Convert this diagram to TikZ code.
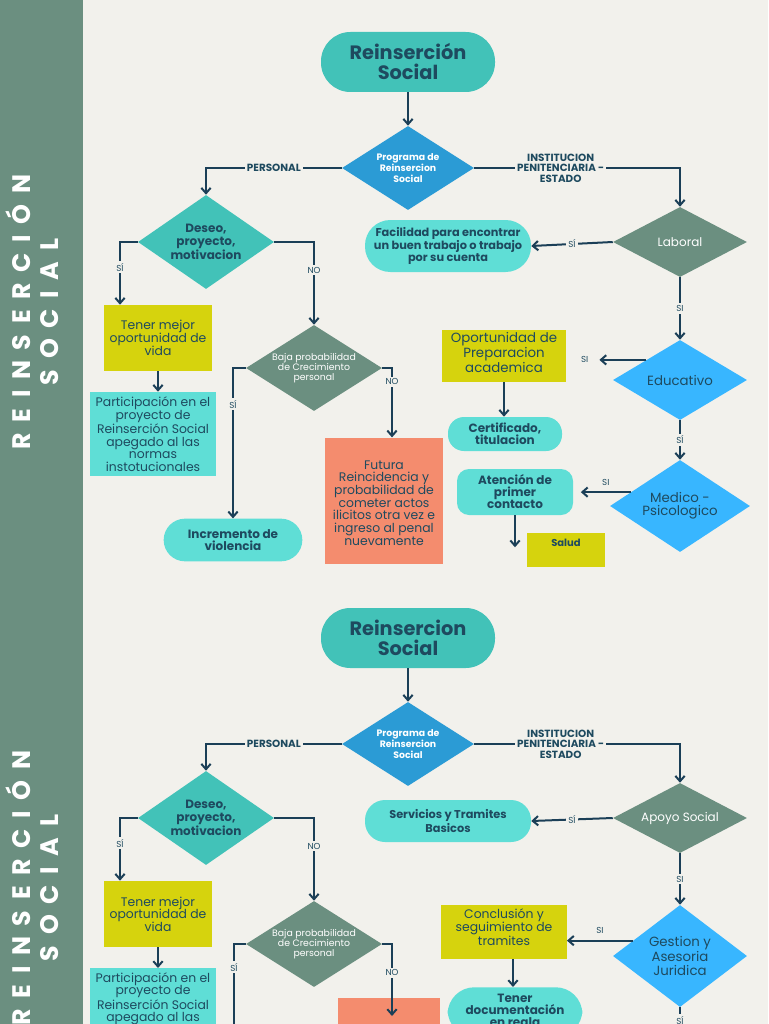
\documentclass[tikz,border=0pt]{standalone}
\usepackage{fontspec}
\setmainfont{Poppins}
\newfontfamily\sidefont[LetterSpace=42]{Poppins Bold}
\usetikzlibrary{shapes.geometric,arrows.meta,calc}
\definecolor{bg}{HTML}{F2F1EC}
\definecolor{side}{HTML}{6B8F80}
\definecolor{teal}{HTML}{42C2B8}
\definecolor{blued}{HTML}{2B9BD5}
\definecolor{cyanb}{HTML}{5FDED6}
\definecolor{yel}{HTML}{D6D30D}
\definecolor{ora}{HTML}{F48C6E}
\definecolor{lblue}{HTML}{38B6FF}
\definecolor{dk}{HTML}{1E4A5F}
\definecolor{ln}{HTML}{1B3F57}
\tikzset{
 dia/.style={diamond,inner sep=0pt,align=center,font=\fontsize{9}{9.5}\selectfont},
 box/.style={rectangle,inner sep=1pt,align=center,text=dk,font=\fontsize{9.3}{9.5}\selectfont},
 pill/.style={rectangle,rounded corners=#1,inner sep=1pt,align=center,text=dk,font=\bfseries\fontsize{8.5}{9}\selectfont},
 conn/.style={draw=ln,line width=1.5pt,-{Straight Barb[length=4pt,width=7pt]}},
 lab/.style={fill=bg,text=dk,inner sep=1.5pt,font=\fontsize{6.5}{7}\selectfont},
 labb/.style={fill=bg,text=dk,inner sep=1.5pt,align=center,font=\bfseries\fontsize{7.8}{8}\selectfont},
 sidetxt/.style={rotate=90,text=white,font=\sidefont\fontsize{19}{19}\selectfont}
}
\begin{document}
\begin{tikzpicture}[x=0.75pt,y=-0.75pt]
\useasboundingbox (0,0) rectangle (768,1024);
\clip (0,0) rectangle (768,1024);
\fill[bg] (0,0) rectangle (768,1024);
\fill[side] (0,0) rectangle (83,1024);
\node[sidetxt] (s1) at (18,312) {REINSERCIÓN};
\node[sidetxt] (s2) at (50,312) {SOCIAL};
\node[sidetxt] (s3) at (18,888) {REINSERCIÓN};
\node[sidetxt] (s4) at (50,888) {SOCIAL};

% ===== TOP =====
\node[pill=22pt,fill=teal,minimum width=130.5pt,minimum height=45pt,font=\bfseries\fontsize{14.5}{15}\selectfont] (t1) at (408,62) {Reinserción\\Social};
\node[dia,shape aspect=1.57,fill=blued,text=white,minimum width=99pt,minimum height=63pt,font=\bfseries\fontsize{7}{8}\selectfont] (p1) at (408,168) {Programa de\\Reinsercion\\Social};
\node[dia,shape aspect=1.45,fill=teal,text=dk,minimum width=102pt,minimum height=70.5pt,font=\bfseries\fontsize{9}{9.5}\selectfont] (d1) at (206,242) {Deseo,\\proyecto,\\motivacion};
\node[box,fill=yel,minimum width=81pt,minimum height=49.5pt] (te1) at (158,338) {Tener mejor\\oportunidad de\\vida};
\node[box,fill=cyanb,minimum width=94.5pt,minimum height=63pt] (pa1) at (153,434) {Participación en el\\proyecto de\\Reinserción Social\\apegado al las\\normas\\instotucionales};
\node[dia,shape aspect=1.58,fill=side,text=white,minimum width=102pt,minimum height=64.5pt,font=\fontsize{7}{7.5}\selectfont] (b1) at (314,368) {Baja probabilidad\\de Crecimiento\\personal};
\node[pill=16pt,fill=cyanb,minimum width=104pt,minimum height=32pt,font=\bfseries\fontsize{9}{9}\selectfont] (in1) at (233,540) {Incremento de\\violencia};
\node[box,fill=ora,minimum width=88.5pt,minimum height=95pt] (fu1) at (384,501) {\\Futura\\Reincidencia y\\probabilidad de\\cometer actos\\ilicitos otra vez e\\ingreso al penal\\nuevamente};
\node[dia,shape aspect=1.9,fill=side,text=white,minimum width=100.5pt,minimum height=52.5pt] (la1) at (680,242) {Laboral};
\node[pill=19pt,fill=cyanb,minimum width=124.5pt,minimum height=39pt] (fa1) at (448,246) {Facilidad para encontrar\\un buen trabajo o trabajo\\por su cuenta};
\node[dia,shape aspect=1.68,fill=lblue,text=dk,minimum width=100.5pt,minimum height=60pt,font=\fontsize{10}{10}\selectfont] (ed1) at (680,380) {Educativo};
\node[box,fill=yel,minimum width=93pt,minimum height=39pt,font=\fontsize{10}{9.5}\selectfont] (op1) at (504,356) {Oportunidad de\\Preparacion\\academica\\[-4pt]};
\node[pill=12pt,fill=cyanb,minimum width=85.5pt,minimum height=25.5pt,font=\bfseries\fontsize{9}{9}\selectfont] (ce1) at (505,434) {Certificado,\\titulacion};
\node[dia,shape aspect=1.52,fill=lblue,text=dk,minimum width=105pt,minimum height=69pt,font=\fontsize{10}{10}\selectfont] (me1) at (680,506) {Medico -\\Psicologico};
\node[pill=9pt,fill=cyanb,minimum width=87pt,minimum height=34.5pt,font=\bfseries\fontsize{9}{9}\selectfont] (at1) at (515,492) {Atención de\\primer\\contacto};
\node[box,fill=yel,minimum width=59pt,minimum height=25.5pt,font=\bfseries\fontsize{7.5}{8}\selectfont] (sa1) at (566,550) {Salud\\[3pt]};

\draw[conn] (t1) -- (p1);
\draw[conn] (p1.west) -| node[labb,pos=0.25]{PERSONAL} (d1.north);
\draw[conn] (p1.east) -| node[labb,pos=0.21]{INSTITUCION\\PENITENCIARIA -\\ESTADO} (la1.north);
\draw[conn] (d1.west) -| node[lab,pos=0.7]{SÍ} (te1.north -| 120,0);
\draw[conn] (d1.east) -| node[lab,pos=0.67]{NO} (b1.north);
\draw[conn] (te1.south) -- (pa1.north -| te1.south);
\draw[conn] (b1.west) -| node[lab,pos=0.62]{SÍ} (in1.north);
\draw[conn] (b1.east) -| node[lab,pos=0.6]{NO} ([xshift=6pt]fu1.north);
\draw[conn] (la1.west) -- node[lab]{SÍ} (fa1.east);
\draw[conn] (la1.south) -- node[lab]{SI} (ed1.north);
\coordinate (e1a) at (ed1.north west);
\coordinate (e1b) at ($(e1a)+(-47,0)$);
\draw[conn] (e1a) -- (e1b) node[lab,left=6pt]{SI};
\draw[conn] (op1.south) -- (ce1.north -| op1.south);
\draw[conn] (ed1.south) -- node[lab]{SÍ} (me1.north);
\coordinate (m1a) at ($(me1.west)!0.3!(me1.north)$);
\coordinate (m1b) at ($(m1a)+(-50,0)$);
\draw[conn] (m1a) -- node[lab,above=3pt]{SI} (m1b);
\coordinate (a1e) at ($(at1.south)+(0,32)$);
\draw[conn] (at1.south) -- (a1e);

% ===== BOTTOM =====
\node[pill=22pt,fill=teal,minimum width=130.5pt,minimum height=45pt,font=\bfseries\fontsize{14.5}{15}\selectfont] (t2) at (408,638) {Reinsercion\\Social};
\node[dia,shape aspect=1.57,fill=blued,text=white,minimum width=99pt,minimum height=63pt,font=\bfseries\fontsize{7}{8}\selectfont] (p2) at (408,744) {Programa de\\Reinsercion\\Social};
\node[dia,shape aspect=1.45,fill=teal,text=dk,minimum width=102pt,minimum height=70.5pt,font=\bfseries\fontsize{9}{9.5}\selectfont] (d2) at (206,818) {Deseo,\\proyecto,\\motivacion};
\node[box,fill=yel,minimum width=81pt,minimum height=49.5pt] (te2) at (158,914) {Tener mejor\\oportunidad de\\vida};
\node[box,fill=cyanb,minimum width=94.5pt,anchor=north,inner ysep=3pt] (pa2) at (153,968) {Participación en el\\proyecto de\\Reinserción Social\\apegado al las};
\node[dia,shape aspect=1.58,fill=side,text=white,minimum width=102pt,minimum height=64.5pt,font=\fontsize{7}{7.5}\selectfont] (b2) at (314,944) {Baja probabilidad\\de Crecimiento\\personal};
\node[box,fill=ora,minimum width=76.5pt,minimum height=95pt] (fu2) at (389,1061) {};
\node[dia,shape aspect=1.9,fill=side,text=white,minimum width=100.5pt,minimum height=52.5pt] (la2) at (680,818) {Apoyo Social};
\node[pill=15pt,fill=cyanb,minimum width=124.5pt,minimum height=31.5pt] (fa2) at (448,821) {Servicios y Tramites\\Basicos};
\node[dia,shape aspect=1.31,fill=lblue,text=dk,minimum width=100.5pt,minimum height=76.5pt,font=\fontsize{10}{10}\selectfont] (ge2) at (680,956) {Gestion y\\Asesoria\\Juridica};
\node[box,fill=yel,minimum width=94pt,minimum height=40pt] (co2) at (504,932) {Conclusión y\\seguimiento de\\tramites\\[-2pt]};
\node[pill=20pt,fill=cyanb,minimum width=101pt,anchor=north,inner ysep=5pt,font=\bfseries\fontsize{9}{9.2}\selectfont] (td2) at (515,987) {Tener\\documentación\\en regla};

\draw[conn] (t2) -- (p2);
\draw[conn] (p2.west) -| node[labb,pos=0.25]{PERSONAL} (d2.north);
\draw[conn] (p2.east) -| node[labb,pos=0.21]{INSTITUCION\\PENITENCIARIA -\\ESTADO} (la2.north);
\draw[conn] (d2.west) -| node[lab,pos=0.7]{SÍ} (te2.north -| 120,0);
\draw[conn] (d2.east) -| node[lab,pos=0.67]{NO} (b2.north);
\draw[conn] (te2.south) -- (pa2.north -| te2.south);
\coordinate (b2l) at (234,1040);
\draw[conn] (b2.west) -| node[lab,pos=0.62]{SÍ} (b2l);
\coordinate (b2r) at (392,1016);
\draw[conn] (b2.east) -| node[lab,pos=0.7]{NO} (b2r);
\draw[conn] (la2.west) -- node[lab]{SÍ} (fa2.east);
\draw[conn] (la2.south) -- node[lab]{SI} (ge2.north);
\coordinate (g2a) at ($(ge2.west)!0.3!(ge2.north)$);
\draw[conn] (g2a) -- node[lab,above=3pt]{SI} (co2.east |- g2a);
\draw[conn] (co2.south -| 513,0) -- (td2.north -| 513,0);
\coordinate (g2e) at (680,1040);
\draw[conn] (ge2.south) -- node[lab,pos=0.4]{SÍ} (g2e);
\end{tikzpicture}
\end{document}
